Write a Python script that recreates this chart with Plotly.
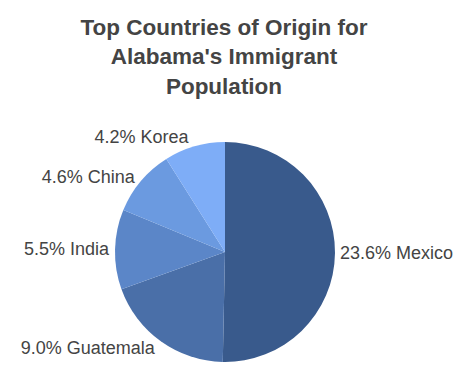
import plotly.graph_objects as go

countries = ["Mexico", "Guatemala", "India", "China", "Korea"]
shares = [23.6, 9.0, 5.5, 4.6, 4.2]
colors = ["#395a8c", "#4a6fa8", "#5b86c8", "#6b9ae0", "#7eadf7"]

labels_text = [f"{v:.1f}% {c}" for c, v in zip(countries, shares)]

W, H = 474, 380
cx, cy, r = 225, 252, 110

fig = go.Figure(go.Pie(
    labels=countries,
    values=shares,
    text=labels_text,
    textinfo="text",
    textposition="outside",
    sort=False,
    direction="clockwise",
    rotation=0,
    marker=dict(colors=colors, line=dict(width=0)),
    textfont=dict(family="Liberation Sans, Arial, sans-serif", size=18, color="#444444"),
    hoverinfo="label+text",
    showlegend=False,
    domain=dict(x=[(cx - r) / W, (cx + r) / W], y=[(H - cy - r) / H, (H - cy + r) / H]),
))

fig.update_layout(
    width=W, height=H,
    margin=dict(l=0, r=0, t=0, b=0),
    paper_bgcolor="white",
    title=dict(
        text="<b>Top Countries of Origin for<br>Alabama's Immigrant<br>Population</b>",
        x=224 / W, xanchor="center", y=1 - 35 / H, yanchor="top",
        font=dict(family="Liberation Sans, Arial, sans-serif", size=22.5, color="#444444"),
    ),
)

fig.write_html("out.html")
